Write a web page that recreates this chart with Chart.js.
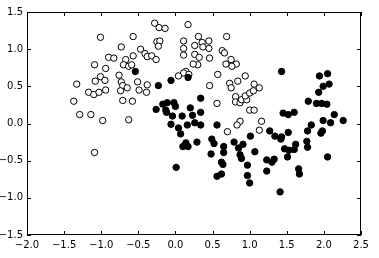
<!DOCTYPE html>
<html>
<head>
<meta charset="utf-8">
<script src="https://cdn.jsdelivr.net/npm/chart.js@4/dist/chart.umd.min.js"></script>
<style>
  html, body { margin: 0; padding: 0; background: #fff; }
  #wrap { width: 379px; height: 258px; }
</style>
</head>
<body>
<div id="wrap"><canvas id="moons" width="379" height="258"></canvas></div>
<script>
// upper moon (open markers)
const openX = [-0.28,-0.22,-0.14,0.17,-1.01,-0.57,-0.25,-0.21,-0.23,-0.73,
  0.11,0.11,0.11,-0.47,-0.41,-0.38,-0.32,-0.26,-0.57,-0.90,
  -0.83,-0.67,-1.09,-0.70,-0.63,-0.59,-0.94,-0.76,-1.01,-1.08,
  -0.95,-1.33,-0.73,-0.71,-0.65,-0.74,-0.51,-0.38,-0.49,-0.39,
  -1.17,-1.10,-1.03,-0.94,-1.37,-0.71,-0.58,-1.29,-1.14,-0.98,
  -0.63,-1.09,0.31,0.26,0.36,0.45,0.45,0.37,0.26,0.32,
  0.30,0.24,0.46,0.69,0.63,0.66,0.75,0.82,0.76,0.68,
  0.14,0.11,0.18,0.04,0.57,0.46,0.73,0.75,0.84,0.94,
  1.06,1.13,0.81,0.81,0.87,0.89,0.96,0.94,1.00,1.05,
  1.00,1.06,0.56,0.87,0.83,0.70,1.16,1.13];
const openY = [1.35,1.29,1.28,1.33,1.16,1.17,1.10,1.11,1.04,1.03,
  1.11,1.01,0.92,1.00,0.94,0.90,0.91,0.86,0.91,0.89,
  0.88,0.86,0.79,0.79,0.77,0.79,0.74,0.65,0.63,0.57,
  0.58,0.53,0.56,0.51,0.48,0.44,0.56,0.52,0.45,0.42,
  0.42,0.39,0.42,0.45,0.30,0.31,0.30,0.12,0.12,0.04,
  0.05,-0.39,1.17,1.05,1.09,1.11,1.01,1.03,0.93,0.89,
  0.79,0.80,0.88,1.17,0.98,0.95,0.86,0.80,0.77,0.80,
  0.70,0.68,0.66,0.64,0.66,0.51,0.54,0.48,0.57,0.64,
  0.53,0.48,0.36,0.29,0.28,0.32,0.32,0.37,0.41,0.44,
  0.18,0.18,0.27,0.03,-0.02,-0.11,0.03,-0.09];

// lower moon (filled markers)
const filledX = [-0.54,-0.23,-0.06,0.17,0.34,-0.26,-0.17,-0.11,-0.02,0.00,
  -0.13,-0.12,-0.04,0.09,0.20,0.23,0.34,-0.06,0.04,0.16,
  0.26,0.34,0.07,0.14,0.10,0.17,0.29,0.56,0.49,0.52,
  0.48,0.65,0.65,0.79,0.91,0.85,0.87,0.89,1.01,1.07,
  0.62,0.64,0.56,0.62,0.97,0.97,1.00,0.01,1.23,1.30,
  1.33,1.23,1.43,1.94,2.05,1.99,2.07,1.93,1.79,1.90,
  1.97,2.04,1.45,1.52,1.60,2.14,2.26,1.99,2.09,1.83,
  1.78,1.98,1.96,1.27,1.34,1.43,1.52,1.42,1.77,1.78,
  1.62,1.60,1.47,1.53,1.51,2.05,1.66,1.67,1.41];
const filledY = [0.70,0.51,0.58,0.62,0.34,0.19,0.26,0.28,0.28,0.23,
  0.18,0.15,0.10,0.10,0.21,0.11,0.15,-0.01,-0.06,-0.02,
  0.01,-0.02,-0.14,-0.26,-0.31,-0.31,-0.25,-0.02,-0.21,-0.27,
  -0.41,-0.31,-0.39,-0.25,-0.28,-0.33,-0.42,-0.47,-0.17,-0.38,
  -0.52,-0.55,-0.71,-0.68,-0.56,-0.70,-0.80,-0.59,-0.49,-0.52,
  -0.48,-0.64,0.70,0.64,0.67,0.50,0.53,0.42,0.30,0.27,
  0.27,0.26,0.14,0.12,0.15,0.12,0.04,0.04,0.01,-0.02,
  -0.10,-0.10,-0.13,-0.10,-0.17,-0.18,-0.12,-0.21,-0.24,-0.32,
  -0.28,-0.35,-0.34,-0.36,-0.45,-0.45,-0.61,-0.68,-0.92];

const xRange = [-2.0, 2.5];
const yRange = [-1.5, 1.5];
const tickStep = 0.5;

const toPoints = (xs, ys) => xs.map((x, i) => ({ x: x, y: ys[i] }));
const fmt = v => Number(v).toFixed(1).replace('-', '\u2212');

// black frame with inward ticks on all four sides
const frameTicks = {
  id: 'frameTicks',
  afterDatasetsDraw(chart) {
    const ctx = chart.ctx;
    const { left, right, top, bottom } = chart.chartArea;
    const sx = chart.scales.x, sy = chart.scales.y;
    ctx.save();
    ctx.strokeStyle = '#000';
    ctx.lineWidth = 1;
    ctx.strokeRect(left + 0.5, top + 0.5, right - left - 1, bottom - top - 1);
    ctx.beginPath();
    sx.ticks.forEach(t => {
      const p = Math.round(sx.getPixelForValue(t.value)) + 0.5;
      ctx.moveTo(p, bottom); ctx.lineTo(p, bottom - 4);
      ctx.moveTo(p, top); ctx.lineTo(p, top + 4);
    });
    sy.ticks.forEach(t => {
      const p = Math.round(sy.getPixelForValue(t.value)) + 0.5;
      ctx.moveTo(left, p); ctx.lineTo(left + 4, p);
      ctx.moveTo(right, p); ctx.lineTo(right - 4, p);
    });
    ctx.stroke();
    ctx.restore();
  }
};

new Chart(document.getElementById('moons').getContext('2d'), {
  type: 'scatter',
  data: {
    datasets: [{
      data: toPoints(openX, openY),
      backgroundColor: '#fff',
      borderColor: '#000',
      borderWidth: 1,
      pointRadius: 3.2,
      order: 2
    }, {
      data: toPoints(filledX, filledY),
      backgroundColor: '#000',
      borderColor: '#000',
      borderWidth: 1,
      pointRadius: 3.2,
      order: 1
    }]
  },
  options: {
    responsive: false,
    animation: false,
    devicePixelRatio: 1,
    layout: { padding: { top: 12, right: 18, left: 0, bottom: 0 } },
    plugins: { legend: { display: false }, tooltip: { enabled: false } },
    scales: {
      x: {
        type: 'linear',
        min: xRange[0], max: xRange[1],
        grid: { display: false, drawTicks: false },
        border: { display: false },
        afterFit: s => { s.height = 23; },
        ticks: {
          stepSize: tickStep, padding: 4, color: '#000', maxRotation: 0,
          font: { family: 'DejaVu Sans', size: 10 },
          callback: fmt
        }
      },
      y: {
        type: 'linear',
        min: yRange[0], max: yRange[1],
        grid: { display: false, drawTicks: false },
        border: { display: false },
        afterFit: s => { s.width = 27; },
        ticks: {
          stepSize: tickStep, padding: 4, color: '#000',
          font: { family: 'DejaVu Sans', size: 10 },
          callback: fmt
        }
      }
    }
  },
  plugins: [frameTicks]
});
</script>
</body>
</html>
